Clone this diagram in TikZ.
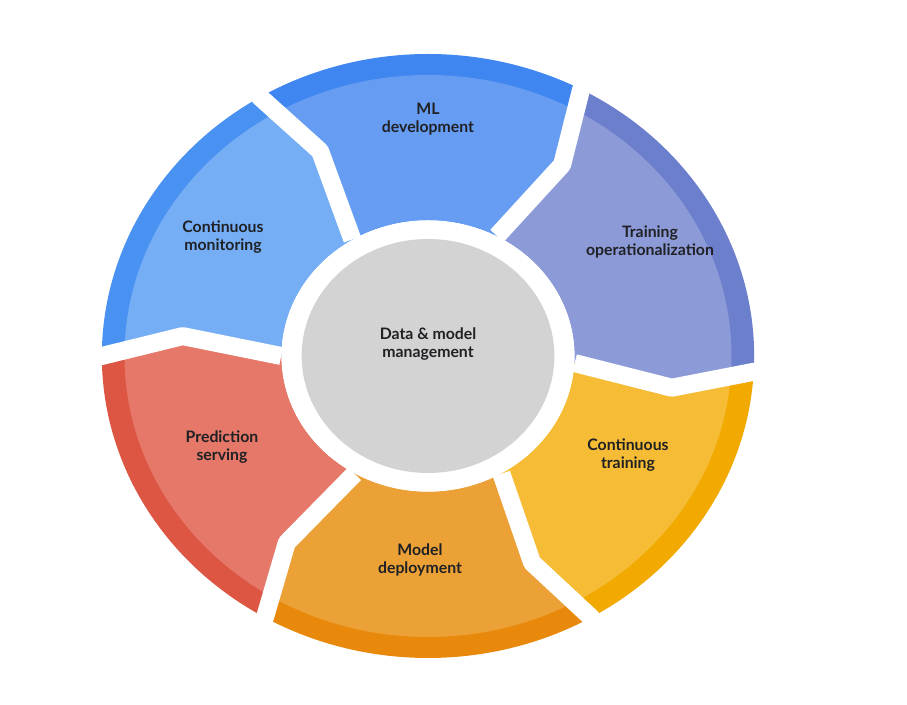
\documentclass[tikz,border=0pt]{standalone}
\usepackage{fontspec}
\setmainfont{Lato}
\definecolor{mlD}{HTML}{3F86F0}\definecolor{mlL}{HTML}{669DF3}
\definecolor{moD}{HTML}{4A92F2}\definecolor{moL}{HTML}{76AEF6}
\definecolor{trD}{HTML}{6B7FCC}\definecolor{trL}{HTML}{8C9BD8}
\definecolor{ctD}{HTML}{F2A900}\definecolor{ctL}{HTML}{F6BC35}
\definecolor{mdD}{HTML}{E8890C}\definecolor{mdL}{HTML}{ECA137}
\definecolor{psD}{HTML}{DC5643}\definecolor{psL}{HTML}{E57868}
\definecolor{grayC}{HTML}{D3D3D3}
\definecolor{txt}{HTML}{202124}
\newcommand\segpath[2]{(#1:302) arc[start angle=#1,end angle=#2,radius=302] -- ({#2-5}:228) -- (#2:136) arc[start angle=#2,end angle=#1,radius=136] -- ({#1-5}:228) -- cycle}
\newcommand\seg[4]{%
  \fill[#3] \segpath{#1}{#2};
  \begin{scope}\clip (0,0) circle[radius=281];
  \fill[#4] \segpath{#1}{#2};\end{scope}}
\newcommand\gap[1]{\draw[white,line width=0.36cm,line join=round] (#1:330) -- (#1:302) -- ({#1-5}:228) -- (#1:136);}
\tikzset{lbl/.style={text=txt,align=center,font=\bfseries\fontsize{9}{10.6}\selectfont}}
\begin{document}
\begin{tikzpicture}[x=0.02cm,y=0.02cm]
\useasboundingbox[fill=white] (0,0) rectangle (907,705);
\begin{scope}[shift={(428,349)},xscale=1.08]
\seg{121}{62}{mlD}{mlL}
\seg{62}{-3}{trD}{trL}
\seg{-3}{-60}{ctD}{ctL}
\seg{-60}{-120}{mdD}{mdL}
\seg{-120}{-180}{psD}{psL}
\seg{180}{121}{moD}{moL}
\gap{121}\gap{62}\gap{-3}\gap{-60}\gap{-120}\gap{180}
\fill[grayC] (0,0) circle[radius=117];
\end{scope}
\node[lbl] (center) at (428,361) {Data \& model\\management};
\node[lbl] (ml) at (428,586) {ML\\development};
\node[lbl] (mon) at (223,468) {Continuous\\monitoring};
\node[lbl] (tr) at (650,463) {Training\\operationalization};
\node[lbl] (ct) at (628,250) {Continuous\\training};
\node[lbl] (ps) at (222,258) {Prediction\\serving};
\node[lbl] (md) at (420,145) {Model\\deployment};
\end{tikzpicture}
\end{document}
